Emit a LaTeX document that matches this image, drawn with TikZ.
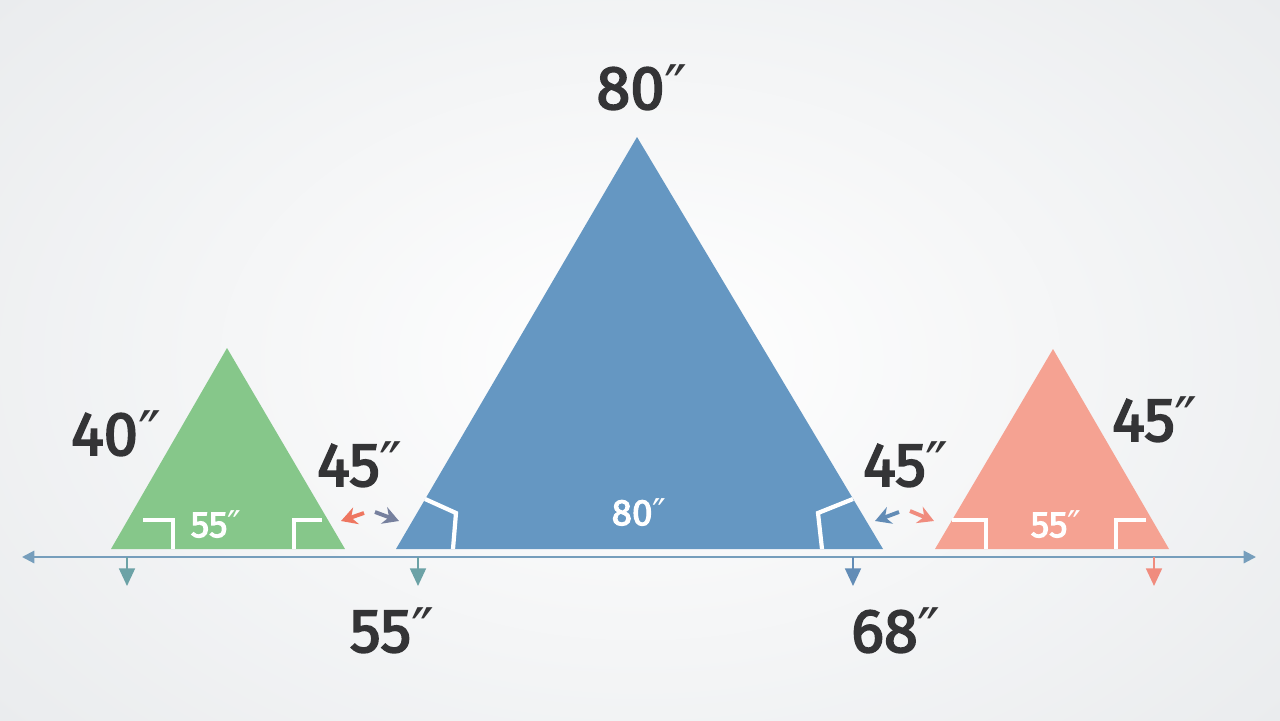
\documentclass[tikz,border=0pt]{standalone}
\usepackage{fontspec}
\setmainfont{Fira Sans}
\newfontfamily\numfont{Fira Sans}[FakeBold=3]
\newfontfamily\dvs{DejaVu Sans}
\usetikzlibrary{arrows.meta}
\definecolor{bg}{RGB}{234,236,238}
\definecolor{grn}{RGB}{134,199,138}
\definecolor{blu}{RGB}{101,151,194}
\definecolor{sal}{RGB}{245,162,146}
\definecolor{axisc}{RGB}{118,158,188}
\definecolor{txt}{RGB}{52,52,54}
\definecolor{tealc}{RGB}{108,162,166}
\definecolor{bluc}{RGB}{98,140,182}
\definecolor{salc}{RGB}{240,140,126}
\definecolor{redc}{RGB}{238,118,96}
\definecolor{grayc}{RGB}{118,128,158}
\newcommand\dqm{{\dvs ″}}
\tikzset{
  biglab/.style={font=\fontsize{35}{38}\selectfont\numfont, text=txt, inner sep=0pt},
  inlab/.style={font=\fontsize{21}{24}\selectfont\numfont, text=white, inner sep=0pt},
  rmark/.style={draw=white, line width=2.4pt, line join=miter},
  axisline/.style={draw=axisc, line width=1.2pt, {Triangle[length=7pt,width=7pt]}-{Triangle[length=7pt,width=7pt]}},
  droparrow/.style={line width=1.2pt, -{Triangle[length=10pt,width=9pt]}},
  smallarr/.style={line width=2.2pt, -{Stealth[length=9pt,width=10pt]}}
}
\begin{document}
\begin{tikzpicture}[x=0.02cm,y=-0.02cm]
\useasboundingbox (0,0) rectangle (1280,720);
\shade[inner color=white, outer color=bg] (-200,-200) rectangle (1480,920);
% triangles
\fill[grn] (227,348) -- (111,549) -- (345,549) -- cycle;
\fill[blu] (637,137) -- (396,549) -- (883,549) -- cycle;
\fill[sal] (1053,349) -- (935,549) -- (1169,549) -- cycle;
% right-angle marks
\draw[rmark] (143,520) -- (173,520) -- (173,549);
\draw[rmark] (322,520) -- (294,520) -- (294,549);
\draw[rmark] (425,499) -- (456,513) -- (453,549);
\draw[rmark] (853,499) -- (818,513) -- (822,549);
\draw[rmark] (952,520) -- (986,520) -- (986,549);
\draw[rmark] (1146,520) -- (1116,520) -- (1116,549);
% axis
\coordinate (axL) at (22,557);
\coordinate (axR) at (1256,557);
\draw[axisline] (axL) -- (axR);
\foreach \x/\c [count=\i] in {127/tealc,418/tealc,853/bluc,1154/salc}{
  \coordinate (d\i a) at (\x,557);
  \coordinate (d\i b) at (\x,586);
  \draw[droparrow, draw=\c, fill=\c] (d\i a) -- (d\i b);
}
% small arrows between triangles
\coordinate (s1a) at (364,513); \coordinate (s1b) at (341,521);
\coordinate (s2a) at (375,512); \coordinate (s2b) at (399,521);
\coordinate (s3a) at (899,512); \coordinate (s3b) at (875,521);
\coordinate (s4a) at (910,511); \coordinate (s4b) at (934,521);
\draw[smallarr, draw=redc, fill=redc] (s1a) -- (s1b);
\draw[smallarr, draw=grayc, fill=grayc] (s2a) -- (s2b);
\draw[smallarr, draw=bluc, fill=bluc] (s3a) -- (s3b);
\draw[smallarr, draw=salc, fill=salc] (s4a) -- (s4b);
% labels
\node[biglab] (top80) at (642,87) {80\dqm};
\node[biglab] (l40) at (116,433) {40\dqm};
\node[biglab] (l45a) at (360,464) {45\dqm};
\node[biglab] (l45b) at (906,464) {45\dqm};
\node[biglab] (l45c) at (1155,419) {45\dqm};
\node[biglab] (b55) at (392,630) {55\dqm};
\node[biglab] (b68) at (896,630) {68\dqm};
\node[inlab] (g55) at (216,524) {55\dqm};
\node[inlab] (m80) at (639,512) {80\dqm};
\node[inlab] (r55) at (1056,524) {55\dqm};
\end{tikzpicture}
\end{document}
